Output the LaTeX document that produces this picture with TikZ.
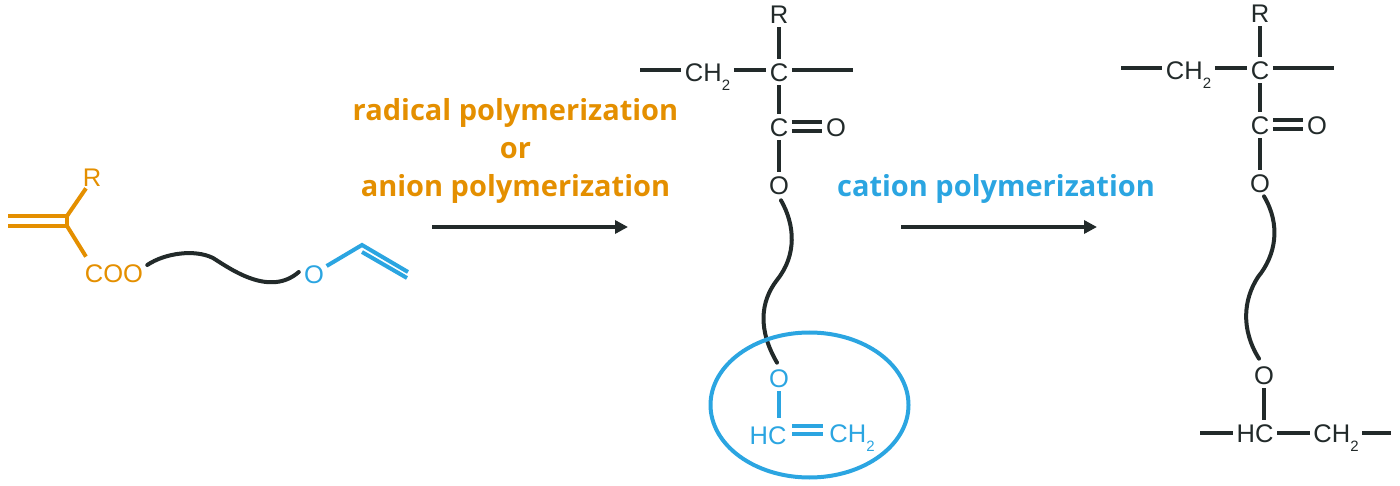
\documentclass[tikz,border=0pt]{standalone}
\usepackage{fontspec}
\setmainfont{Liberation Sans}
\newfontfamily\headfont{Open Sans}
\usetikzlibrary{arrows.meta,shapes.geometric}
\definecolor{ink}{HTML}{222A2A}
\definecolor{amber}{HTML}{E48F00}
\definecolor{sky}{HTML}{2BA5E1}
\newcommand{\chtwo}{CH\raisebox{-9pt}{\fontsize{15}{15}\selectfont 2}}
\tikzset{
  atom/.style={inner xsep=3.5pt,inner ysep=4pt,text height=18.3pt,text depth=0pt,font=\fontsize{25.5}{25.5}\selectfont},
  bond/.style={line width=4pt},
  chain/.style={line width=4pt,line cap=round,ink},
  reaction/.style={line width=3.4pt,ink,-{Triangle[length=13pt,width=13pt]}},
  title/.style={font=\headfont\fontsize{29}{29}\selectfont\bfseries,inner sep=0pt,anchor=base},
}
\begin{document}
\begin{tikzpicture}[x=1pt,y=-1pt]
\useasboundingbox (0,0) rectangle (1400,486);
% monomer
\begin{scope}[amber]
\node[atom,text=amber] (mR) at (92,177) {R};
\node[atom,text=amber] (mCOO) at (114,273) {COO};
\coordinate (mTopL) at (8,216);
\coordinate (mTopR) at (67,216);
\coordinate (mLowL) at (8,226);
\coordinate (mLowR) at (67,226);
\draw[bond] (mTopL) -- (mTopR);
\draw[bond] (mLowL) -- (mLowR);
\draw[line width=4pt,line cap=round] (mTopR) -- (mLowR);
\draw[bond] ([xshift=-6pt,yshift=2pt]mR.south) -- (mTopR);
\draw[bond] (mLowR) -- ([xshift=-28pt,yshift=3pt]mCOO.north);
\end{scope}
\begin{scope}[sky]
\node[atom,text=sky] (mO) at (314,274) {O};
\coordinate (mV) at (362,245);
\coordinate (mVa) at (408,272);
\coordinate (mVb) at (362,252);
\coordinate (mVc) at (407,278);
\draw[bond] ([xshift=-1pt,yshift=8pt]mO.east) -- (mV) -- (mVa);
\draw[bond] (mVb) -- (mVc);
\end{scope}
\draw[chain] ([xshift=0.5pt,yshift=8pt]mCOO.east) .. controls (165,253) and (195,249) .. (213,258) .. controls (232,270) and (270,297) .. ([xshift=-1.6pt,yshift=2pt]mO.west);
% labels and arrows
\node[title,text=amber] (t1) at (515.5,121) {radical polymerization};
\node[title,text=amber] (t2) at (515.5,159) {or};
\node[title,text=amber] (t3) at (515.5,197) {anion polymerization};
\node[title,text=sky] (t4) at (996,197) {cation polymerization};
\coordinate (a1s) at (432,227);
\coordinate (a1e) at (628,227);
\coordinate (a2s) at (901,227);
\coordinate (a2e) at (1097,227);
\draw[reaction] (a1s) -- (a1e);
\draw[reaction] (a2s) -- (a2e);
% middle polymer
\begin{scope}[ink,every node/.append style={text=ink}]
\node[atom] (bR) at (779,14) {R};
\node[atom] (bC) at (779,72) {C};
\node[atom] (bCH) at (707.5,72) {\chtwo};
\node[atom] (bCO) at (779,127) {C};
\node[atom] (bOd) at (836,127) {O};
\node[atom] (bOs) at (779,185) {O};
\coordinate (bL) at (640,70);
\coordinate (bRt) at (853,70);
\draw[bond] (bR) -- (bC);
\draw[bond] (bL) -- ([yshift=2pt]bCH.west);
\draw[bond] ([yshift=2pt]bCH.east) -- ([yshift=2pt]bC.west);
\draw[bond] ([yshift=2pt]bC.east) -- (bRt);
\draw[bond] (bC) -- (bCO);
\draw[bond] (bCO) -- (bOs);
\draw[bond] ([yshift=4.5pt]bCO.east) -- ([yshift=4.5pt]bOd.west);
\draw[bond] ([yshift=-4.5pt]bCO.east) -- ([yshift=-4.5pt]bOd.west);
\end{scope}
\begin{scope}[sky,every node/.append style={text=sky}]
\node[atom] (bO2) at (779,378) {O};
\node[atom] (bHC) at (768,435) {HC};
\node[atom] (bCH2) at (852,433) {\chtwo};
\coordinate (bHCtop) at (779,418);
\draw[bond] (bO2.south) -- (bHCtop);
\draw[bond] ([xshift=2pt,yshift=9.3pt]bHC.east) -- ([xshift=-3pt,yshift=7.3pt]bCH2.west);
\draw[bond] ([xshift=2pt,yshift=1pt]bHC.east) -- ([xshift=-3pt,yshift=-1pt]bCH2.west);
\end{scope}
\draw[chain] ([xshift=2pt,yshift=-2pt]bOs.south) .. controls (795,225) and (797,255) .. (777,280) .. controls (760,302) and (758,330) .. ([xshift=-2pt,yshift=2pt]bO2.north);
\node[draw=sky,line width=4pt,ellipse,minimum width=198pt,minimum height=145pt,inner sep=0pt] (ring) at (809.5,405) {};
% right polymer
\begin{scope}[ink,every node/.append style={text=ink}]
\node[atom] (cR) at (1260,13) {R};
\node[atom] (cC) at (1260,70) {C};
\node[atom] (cCH) at (1188.5,70) {\chtwo};
\node[atom] (cCO) at (1260,125) {C};
\node[atom] (cOd) at (1317,125) {O};
\node[atom] (cOs) at (1260,183) {O};
\node[atom] (cO2) at (1264,375) {O};
\node[atom] (cHC) at (1255,433) {HC};
\node[atom] (cCH2) at (1336,433) {\chtwo};
\coordinate (cL) at (1121,68);
\coordinate (cRt) at (1334,68);
\coordinate (cBL) at (1200,433);
\coordinate (cBR) at (1391,433);
\draw[bond] (cR) -- (cC);
\draw[bond] (cL) -- ([yshift=2pt]cCH.west);
\draw[bond] ([yshift=2pt]cCH.east) -- ([yshift=2pt]cC.west);
\draw[bond] ([yshift=2pt]cC.east) -- (cRt);
\draw[bond] (cC) -- (cCO);
\draw[bond] (cCO) -- (cOs);
\draw[bond] ([yshift=4.5pt]cCO.east) -- ([yshift=4.5pt]cOd.west);
\draw[bond] ([yshift=-4.5pt]cCO.east) -- ([yshift=-4.5pt]cOd.west);
\draw[bond] (cO2.south) -- (cO2.south |- cHC.north);
\draw[bond] (cBL) -- (cHC.west);
\draw[bond] (cHC.east) -- (cCH2.west);
\draw[bond] (cCH2.east) -- (cBR);
\draw[chain] ([xshift=4pt]cOs.south) .. controls (1281,225) and (1276,255) .. (1258,277) .. controls (1243,300) and (1241,330) .. ([xshift=-5pt,yshift=3pt]cO2.north);
\end{scope}
\end{tikzpicture}
\end{document}
